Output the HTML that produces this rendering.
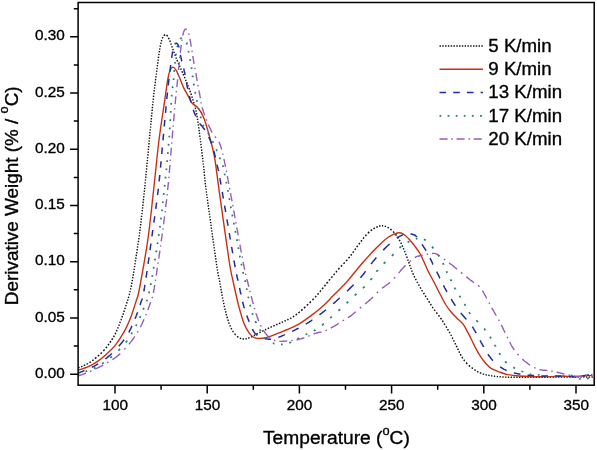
<!DOCTYPE html>
<html><head><meta charset="utf-8"><title>DTG curves</title>
<style>
html,body{margin:0;padding:0;background:#fff}
body{width:597px;height:450px;overflow:hidden}
svg{display:block}
text{font-family:"Liberation Sans",sans-serif;fill:#000;stroke:#000;stroke-width:0.35px}
.tk{font-size:15.3px}
.ti{font-size:19.2px}
.lg{font-size:18.7px}
</style></head><body>
<svg width="597" height="450" viewBox="0 0 597 450">
<rect width="597" height="450" fill="#fff"/>
<defs><clipPath id="cp"><rect x="78.1" y="2.5" width="516.1" height="382.7"/></clipPath></defs>
<g clip-path="url(#cp)" fill="none" stroke-linejoin="round">
<path d="M78.3 367.9L79.1 367.6L79.6 367.4M81.1 366.7L82.0 366.4L82.4 366.2M83.8 365.6L84.7 365.1L85.2 364.9M86.6 364.2L87.5 363.8L88.0 363.5M89.4 362.6L90.3 362.1L90.8 361.7M92.2 360.7L93.1 360.1L93.6 359.7M95.0 358.6L95.8 357.9L96.4 357.4M97.8 356.2L98.6 355.5L99.1 355.0M100.6 353.7L101.4 352.9L101.9 352.4M103.4 350.9L104.1 350.1L104.6 349.6M105.8 348.1L106.5 347.3L106.9 346.8M108.0 345.3L108.6 344.5L109.0 344.0M109.9 342.6L110.5 341.8L110.9 341.2M111.8 339.8L112.3 339.0L112.7 338.4M113.5 337.0L114.0 336.2L114.3 335.6M115.1 334.2L115.5 333.4L115.8 332.8M116.4 331.4L116.8 330.6L117.1 330.0M117.7 328.6L118.0 327.8L118.2 327.3M118.8 325.8L119.1 325.0L119.3 324.5M119.8 323.0L120.1 322.2L120.3 321.7M120.9 320.2L121.2 319.4L121.3 318.9M121.9 317.4L122.2 316.6L122.4 316.1M122.9 314.7L123.2 313.9L123.4 313.3M123.9 311.9L124.2 311.0L124.4 310.5M124.8 309.1L125.1 308.2L125.3 307.7M125.7 306.3L126.0 305.4L126.2 304.9M126.6 303.5L126.9 302.6L127.1 302.1M127.5 300.7L127.8 299.8L127.9 299.4M128.3 297.9L128.6 297.0L128.7 296.6M129.1 295.1L129.4 294.2L129.5 293.8M129.8 292.3L130.1 291.4L130.2 291.0M130.5 289.5L130.7 288.6L130.8 288.2M131.1 286.8L131.3 285.9L131.4 285.4M131.7 284.0L131.8 283.1L131.9 282.6M132.2 281.2L132.3 280.3L132.4 279.8M132.7 278.4L132.8 277.5L132.9 277.0M133.2 275.6L133.3 274.7L133.4 274.2M133.6 272.8L133.8 271.9L133.8 271.5M134.1 270.0L134.2 269.1L134.3 268.7M134.5 267.2L134.7 266.3L134.7 265.9M135.0 264.4L135.1 263.5L135.2 263.1M135.4 261.6L135.5 260.7L135.6 260.3M135.8 258.9L135.9 258.0L136.0 257.5M136.2 256.1L136.3 255.2L136.4 254.7M136.6 253.3L136.8 252.4L136.8 251.9M137.0 250.5L137.2 249.6L137.2 249.1M137.4 247.7L137.6 246.8L137.7 246.3M137.9 244.9L138.0 244.0L138.1 243.6M138.3 242.1L138.5 241.2L138.5 240.8M138.7 239.3L138.9 238.4L138.9 238.0M139.2 236.5L139.3 235.6L139.3 235.2M139.5 233.7L139.6 232.8L139.7 232.4M139.9 231.0L140.0 230.1L140.0 229.6M140.2 228.2L140.3 227.3L140.4 226.8M140.6 225.4L140.7 224.5L140.7 224.0M140.9 222.6L141.0 221.7L141.0 221.2M141.2 219.8L141.3 218.9L141.4 218.4M141.5 217.0L141.6 216.1L141.7 215.7M141.9 214.2L142.0 213.3L142.0 212.9M142.2 211.4L142.3 210.5L142.3 210.1M142.5 208.6L142.6 207.7L142.6 207.3M142.8 205.8L142.9 204.9L142.9 204.5M143.1 203.1L143.2 202.2L143.3 201.7M143.4 200.3L143.5 199.4L143.6 198.9M143.7 197.5L143.8 196.6L143.9 196.1M144.0 194.7L144.1 193.8L144.2 193.3M144.3 191.9L144.4 191.0L144.4 190.5M144.6 189.1L144.7 188.2L144.7 187.8M144.9 186.3L145.0 185.4L145.0 185.0M145.2 183.5L145.2 182.6L145.3 182.2M145.4 180.7L145.5 179.8L145.6 179.4M145.7 177.9L145.8 177.0L145.8 176.6M146.0 175.2L146.0 174.3L146.1 173.8M146.2 172.4L146.3 171.5L146.4 171.0M146.5 169.6L146.6 168.7L146.6 168.2M146.8 166.8L146.8 165.9L146.9 165.4M147.0 164.0L147.1 163.1L147.2 162.6M147.3 161.2L147.4 160.3L147.4 159.9M147.6 158.4L147.6 157.5L147.7 157.1M147.8 155.6L147.9 154.7L147.9 154.3M148.1 152.8L148.2 151.9L148.2 151.5M148.3 150.0L148.4 149.1L148.5 148.7M148.6 147.3L148.7 146.4L148.7 145.9M148.9 144.5L149.0 143.6L149.0 143.1M149.1 141.7L149.2 140.8L149.3 140.3M149.4 138.9L149.5 138.0L149.5 137.5M149.7 136.1L149.8 135.2L149.8 134.7M149.9 133.3L150.0 132.4L150.1 132.0M150.2 130.5L150.3 129.6L150.3 129.2M150.5 127.7L150.6 126.8L150.6 126.4M150.7 124.9L150.8 124.0L150.9 123.6M151.0 122.1L151.1 121.2L151.1 120.8M151.3 119.4L151.3 118.6L151.4 118.0M151.5 116.6L151.6 115.8L151.7 115.2M151.8 113.8L151.9 113.0L151.9 112.4M152.1 111.0L152.2 110.2L152.2 109.6M152.4 108.2L152.4 107.4L152.5 106.8M152.6 105.4L152.7 104.6L152.8 104.1M152.9 102.6L153.0 101.8L153.1 101.3M153.2 99.8L153.3 99.0L153.4 98.5M153.5 97.0L153.6 96.2L153.7 95.7M153.8 94.2L153.9 93.4L154.0 92.9M154.2 91.5L154.2 90.7L154.3 90.1M154.5 88.7L154.6 87.9L154.7 87.3M154.8 85.9L154.9 85.1L155.0 84.5M155.2 83.1L155.3 82.3L155.4 81.7M155.5 80.3L155.6 79.5L155.7 78.9M155.9 77.5L156.0 76.7L156.1 76.2M156.3 74.7L156.4 73.9L156.4 73.4M156.6 71.9L156.7 71.1L156.8 70.6M157.0 69.1L157.1 68.3L157.2 67.8M157.3 66.3L157.4 65.5L157.5 65.0M157.7 63.6L157.8 62.8L157.9 62.2M158.1 60.8L158.2 60.0L158.2 59.4M158.4 58.0L158.5 57.2L158.6 56.6M158.8 55.2L158.9 54.4L159.0 53.8M159.2 52.4L159.4 51.6L159.5 51.0M159.7 49.6L159.8 48.8L159.9 48.3M160.2 46.8L160.3 46.0L160.4 45.5M160.7 44.0L160.9 43.2L161.0 42.7M161.4 41.2L161.6 40.4L161.8 39.9M162.3 38.4L162.7 37.6L162.9 37.1M163.8 35.7L164.6 35.0L165.2 34.7M166.6 35.0L167.3 35.8L167.7 36.4M168.4 37.8L168.8 38.6L169.1 39.2M169.8 40.6L170.1 41.4L170.3 42.0M170.8 43.4L171.1 44.2L171.3 44.8M171.8 46.2L172.1 47.0L172.3 47.5M172.8 49.0L173.1 49.8L173.3 50.3M173.8 51.8L174.1 52.6L174.3 53.1M174.9 54.6L175.2 55.4L175.3 55.9M175.9 57.4L176.2 58.2L176.4 58.7M177.0 60.1L177.3 60.9L177.6 61.5M178.2 62.9L178.5 63.7L178.8 64.3M179.4 65.7L179.8 66.5L180.0 67.1M180.7 68.5L181.0 69.3L181.3 69.9M181.9 71.3L182.3 72.1L182.6 72.7M183.2 74.1L183.5 74.9L183.7 75.4M184.4 76.9L184.7 77.7L184.9 78.2M185.6 79.7L185.9 80.5L186.1 81.0M186.7 82.5L187.0 83.3L187.2 83.8M187.8 85.3L188.1 86.1L188.3 86.6M188.9 88.0L189.2 88.8L189.4 89.4M189.9 90.8L190.2 91.6L190.4 92.2M190.9 93.6L191.2 94.4L191.4 95.0M191.8 96.4L192.1 97.2L192.3 97.8M192.7 99.2L193.0 100.0L193.2 100.6M193.6 102.0L193.9 102.8L194.0 103.3M194.5 104.8L194.7 105.6L194.8 106.1M195.2 107.6L195.4 108.4L195.6 108.9M195.9 110.4L196.1 111.2L196.2 111.7M196.5 113.2L196.6 114.0L196.7 114.5M197.0 115.9L197.1 116.7L197.2 117.3M197.4 118.7L197.6 119.5L197.6 120.1M197.9 121.5L198.0 122.3L198.1 122.9M198.3 124.3L198.4 125.1L198.5 125.7M198.7 127.1L198.8 127.9L198.9 128.5M199.0 129.9L199.2 130.7L199.2 131.2M199.4 132.7L199.5 133.5L199.6 134.0M199.8 135.5L199.9 136.3L200.0 136.8M200.2 138.3L200.3 139.1L200.3 139.6M200.5 141.1L200.6 141.9L200.7 142.4M200.9 143.8L201.0 144.6L201.1 145.2M201.2 146.6L201.3 147.4L201.4 148.0M201.6 149.4L201.7 150.2L201.8 150.8M201.9 152.2L202.0 153.0L202.1 153.6M202.3 155.0L202.4 155.8L202.4 156.4M202.6 157.8L202.7 158.6L202.8 159.1M202.9 160.6L203.0 161.4L203.1 161.9M203.3 163.4L203.3 164.2L203.4 164.7M203.6 166.2L203.7 167.0L203.7 167.5M203.9 169.0L204.0 169.8L204.0 170.3M204.2 171.7L204.3 172.5L204.3 173.1M204.4 174.5L204.5 175.3L204.5 175.9M204.6 177.3L204.7 178.1L204.7 178.7M204.9 180.1L205.0 180.9L205.1 181.5M205.2 182.9L205.3 183.7L205.4 184.3M205.6 185.7L205.7 186.5L205.8 187.0M206.0 188.5L206.1 189.3L206.1 189.8M206.3 191.3L206.4 192.1L206.5 192.6M206.7 194.1L206.8 194.9L206.9 195.4M207.1 196.9L207.2 197.7L207.3 198.2M207.5 199.6L207.6 200.4L207.6 201.0M207.8 202.4L207.9 203.2L208.0 203.8M208.2 205.2L208.3 206.0L208.4 206.6M208.6 208.0L208.7 208.8L208.8 209.4M209.0 210.8L209.1 211.6L209.2 212.2M209.4 213.6L209.5 214.4L209.6 214.9M209.8 216.4L209.9 217.2L210.0 217.7M210.2 219.2L210.3 220.0L210.3 220.5M210.6 222.0L210.7 222.8L210.7 223.3M210.9 224.8L211.1 225.6L211.1 226.1M211.3 227.5L211.4 228.3L211.5 228.9M211.7 230.3L211.8 231.1L211.9 231.7M212.1 233.1L212.2 233.9L212.3 234.5M212.5 235.9L212.6 236.7L212.7 237.3M212.9 238.7L213.0 239.5L213.1 240.1M213.3 241.5L213.4 242.3L213.5 242.8M213.7 244.3L213.8 245.1L213.9 245.6M214.1 247.1L214.2 247.9L214.3 248.4M214.5 249.9L214.6 250.7L214.7 251.2M214.9 252.7L215.0 253.5L215.1 254.0M215.3 255.4L215.4 256.2L215.5 256.8M215.7 258.2L215.8 259.0L215.9 259.6M216.1 261.0L216.2 261.8L216.3 262.4M216.5 263.8L216.6 264.6L216.7 265.2M216.9 266.6L217.0 267.4L217.1 268.0M217.3 269.4L217.4 270.2L217.5 270.7M217.8 272.2L217.9 273.0L218.0 273.5M218.3 275.0L218.5 275.8L218.6 276.3M219.0 277.8L219.1 278.6L219.2 279.1M219.5 280.6L219.7 281.4L219.7 281.9M220.0 283.3L220.1 284.1L220.2 284.7M220.5 286.1L220.6 286.9L220.7 287.5M221.0 288.9L221.1 289.7L221.2 290.3M221.5 291.7L221.6 292.5L221.7 293.1M222.0 294.5L222.1 295.3L222.2 295.9M222.5 297.3L222.6 298.1L222.7 298.6M223.0 300.1L223.2 300.9L223.3 301.4M223.6 302.9L223.8 303.7L223.9 304.2M224.2 305.7L224.4 306.5L224.5 307.0M224.8 308.5L225.0 309.3L225.1 309.8M225.5 311.2L225.7 312.0L225.8 312.6M226.2 314.0L226.4 314.8L226.6 315.4M227.0 316.8L227.2 317.6L227.4 318.2M227.8 319.6L228.1 320.4L228.3 321.0M228.8 322.4L229.0 323.2L229.3 323.8M229.8 325.2L230.2 326.0L230.4 326.5M231.1 328.0L231.5 328.8L231.8 329.3M232.6 330.8L233.1 331.6L233.5 332.1M234.6 333.6L235.2 334.4L235.7 334.9M237.1 336.4L237.9 337.0L238.4 337.4M239.8 338.1L240.6 338.4L241.2 338.6M242.6 338.8L243.4 338.9L244.0 338.9M245.4 338.9L246.2 338.8L246.8 338.6M248.2 338.2L249.0 337.9L249.6 337.7M251.0 337.1L251.8 336.7L252.4 336.4M253.8 335.6L254.6 335.2L255.1 335.0M256.6 334.2L257.4 333.7L257.9 333.5M259.4 332.7L260.2 332.3L260.7 332.1M262.2 331.3L263.0 330.9L263.5 330.7M265.0 329.9L265.8 329.5L266.3 329.3M267.7 328.6L268.5 328.2L269.1 327.9M270.5 327.3L271.3 326.9L271.9 326.7M273.3 326.1L274.1 325.7L274.7 325.5M276.1 324.9L276.9 324.5L277.5 324.3M278.9 323.7L279.7 323.3L280.3 323.0M281.7 322.4L282.5 322.0L283.0 321.8M284.5 321.1L285.3 320.8L285.8 320.6M287.3 319.9L288.1 319.5L288.6 319.3M290.1 318.5L290.9 318.1L291.4 317.8M292.9 316.9L293.7 316.4L294.2 316.1M295.6 315.1L296.4 314.5L297.0 314.0M298.4 312.9L299.2 312.3L299.8 311.8M301.2 310.6L302.0 309.9L302.6 309.4M304.0 308.1L304.8 307.4L305.4 306.9M306.8 305.6L307.6 304.8L308.2 304.2M309.6 302.9L310.4 302.1L310.9 301.6M312.4 300.1L313.2 299.3L313.7 298.8M315.1 297.3L315.8 296.5L316.2 296.0M317.5 294.5L318.2 293.7L318.6 293.2M319.9 291.7L320.5 290.9L320.9 290.4M322.1 289.0L322.7 288.2L323.2 287.6M324.3 286.2L325.0 285.4L325.5 284.8M326.6 283.4L327.3 282.6L327.8 282.0M328.9 280.6L329.6 279.8L330.1 279.2M331.2 277.8L331.9 277.0L332.4 276.4M333.6 275.0L334.2 274.2L334.6 273.7M335.9 272.2L336.6 271.4L337.0 270.9M338.3 269.4L339.0 268.6L339.5 268.1M340.9 266.6L341.6 265.8L342.1 265.3M343.5 263.8L344.3 263.0L344.7 262.5M346.0 261.1L346.8 260.3L347.3 259.7M348.5 258.3L349.1 257.5L349.6 256.9M350.7 255.5L351.3 254.7L351.7 254.1M352.7 252.7L353.3 251.9L353.7 251.3M354.7 249.9L355.3 249.1L355.7 248.5M356.7 247.1L357.3 246.3L357.7 245.8M358.8 244.3L359.4 243.5L359.8 243.0M360.9 241.5L361.5 240.7L361.9 240.2M363.1 238.7L363.7 237.9L364.1 237.4M365.4 235.9L366.1 235.1L366.5 234.6M367.9 233.2L368.7 232.4L369.3 231.9M370.7 230.7L371.5 230.1L372.1 229.7M373.5 228.8L374.3 228.3L374.9 228.0M376.3 227.3L377.1 227.0L377.7 226.8M379.1 226.3L379.9 226.0L380.5 225.9M381.9 225.7L382.7 225.7L383.2 225.7M384.7 226.1L385.5 226.4L386.0 226.6M387.5 227.3L388.3 227.7L388.8 228.0M390.3 229.1L391.1 229.7L391.6 230.1M393.1 231.5L393.8 232.3L394.3 232.8M395.5 234.2L396.1 235.0L396.5 235.6M397.5 237.0L398.0 237.8L398.4 238.4M399.2 239.8L399.7 240.6L400.0 241.2M400.8 242.6L401.2 243.4L401.5 244.0M402.1 245.4L402.5 246.2L402.7 246.8M403.3 248.2L403.7 249.0L403.9 249.5M404.5 251.0L404.8 251.8L405.0 252.3M405.6 253.8L405.9 254.6L406.1 255.1M406.7 256.6L407.0 257.4L407.2 257.9M407.7 259.4L408.0 260.2L408.2 260.7M408.7 262.1L409.0 262.9L409.2 263.5M409.7 264.9L410.0 265.7L410.2 266.3M410.7 267.7L411.0 268.5L411.2 269.1M411.7 270.5L412.0 271.3L412.3 271.9M412.8 273.3L413.2 274.1L413.4 274.7M414.1 276.1L414.5 276.9L414.7 277.4M415.5 278.9L415.9 279.7L416.2 280.2M417.0 281.7L417.4 282.5L417.7 283.0M418.6 284.5L419.0 285.3L419.3 285.8M420.2 287.3L420.6 288.1L420.9 288.6M421.8 290.0L422.2 290.8L422.6 291.4M423.5 292.8L424.0 293.6L424.3 294.2M425.2 295.6L425.7 296.4L426.1 297.0M427.0 298.4L427.5 299.2L427.8 299.8M428.7 301.2L429.2 302.0L429.6 302.6M430.5 304.0L431.0 304.8L431.3 305.3M432.3 306.8L432.8 307.6L433.2 308.1M434.2 309.6L434.8 310.4L435.2 310.9M436.3 312.4L437.0 313.2L437.4 313.7M438.5 315.2L439.1 316.0L439.5 316.5M440.5 317.9L441.1 318.7L441.5 319.3M442.4 320.7L442.9 321.5L443.2 322.1M444.1 323.5L444.6 324.3L445.0 324.9M445.9 326.3L446.4 327.1L446.7 327.7M447.6 329.1L448.0 329.9L448.4 330.5M449.2 331.9L449.7 332.7L450.0 333.2M450.8 334.7L451.2 335.5L451.5 336.0M452.2 337.5L452.6 338.3L452.9 338.8M453.6 340.3L454.0 341.1L454.2 341.6M455.0 343.1L455.4 343.9L455.6 344.4M456.3 345.8L456.7 346.6L457.0 347.2M457.6 348.6L458.0 349.4L458.3 350.0M458.9 351.4L459.3 352.2L459.6 352.8M460.3 354.2L460.8 355.0L461.1 355.6M462.0 357.0L462.5 357.8L462.9 358.4M463.8 359.8L464.4 360.6L464.8 361.1M466.1 362.6L466.8 363.4L467.3 363.9M468.8 365.4L469.6 366.1L470.1 366.5M471.6 367.7L472.4 368.2L472.9 368.6M474.4 369.6L475.2 370.2L475.7 370.5M477.1 371.3L477.9 371.8L478.5 372.1M479.9 372.8L480.7 373.1L481.3 373.4M482.7 373.9L483.5 374.1L484.1 374.3M485.5 374.7L486.3 374.9L486.9 375.0M488.3 375.3L489.1 375.4L489.7 375.5M491.1 375.8L491.9 375.9L492.4 376.0M493.9 376.2L494.7 376.3L495.2 376.4M496.7 376.5L497.5 376.6L498.0 376.6M499.5 376.8L500.3 376.8L500.8 376.9M502.3 377.0L503.1 377.0L503.6 377.0M505.0 377.1L505.8 377.1L506.4 377.2M507.8 377.2L508.6 377.2L509.2 377.2M510.6 377.2L511.4 377.3L512.0 377.3M513.4 377.3L514.2 377.3L514.8 377.3M516.2 377.3L517.0 377.3L517.6 377.3M519.0 377.3L519.8 377.3L520.3 377.3M521.8 377.3L522.6 377.3L523.1 377.3M524.6 377.3L525.4 377.3L525.9 377.3M527.4 377.3L528.2 377.3L528.7 377.3M530.2 377.3L531.0 377.3L531.5 377.3M532.9 377.3L533.7 377.3L534.3 377.3M535.7 377.3L536.5 377.3L537.1 377.3M538.5 377.2L539.3 377.2L539.9 377.2M541.3 377.2L542.1 377.2L542.7 377.2M544.1 377.2L544.9 377.2L545.5 377.2M546.9 377.2L547.8 377.2L548.2 377.2M549.7 377.2L550.6 377.1L551.0 377.1M552.5 377.1L553.4 377.1L553.8 377.1M555.3 377.1L556.2 377.1L556.6 377.1M558.1 377.1L559.0 377.1L559.4 377.1M560.8 377.1L561.7 377.1L562.2 377.1M563.6 377.1L564.5 377.1L565.0 377.1M566.4 377.1L567.3 377.1L567.8 377.1M569.2 377.1L570.1 377.1L570.6 377.1M572.0 377.1L572.9 377.1L573.4 377.1M574.8 377.1L575.7 377.1L576.1 377.1M577.6 377.1L578.5 377.1L578.9 377.1M580.4 377.1L581.3 377.1L581.7 377.1M583.2 377.1L584.1 377.1L584.5 377.1M586.0 377.1L586.9 377.1L587.3 377.1M588.7 377.1L589.6 377.1L590.1 377.1M591.5 377.1L592.4 377.1L592.9 377.1" stroke="#111111" stroke-width="1.45"/>
<path d="M77.7 370.4C79.5 369.8 85.0 368.2 88.3 366.7C91.5 365.2 94.2 363.7 97.2 361.6C100.2 359.6 103.1 357.1 106.1 354.4C109.1 351.7 112.0 349.3 115.0 345.6C118.0 341.9 121.3 336.8 123.9 332.2C126.5 327.6 128.6 323.0 130.6 317.8C132.6 312.6 134.7 305.7 136.1 301.1C137.5 296.5 137.2 300.2 139.2 290.0C141.1 279.8 145.4 256.7 147.8 240.0C150.2 223.3 151.7 206.7 153.6 190.0C155.5 173.3 157.1 155.2 159.0 140.0C160.9 124.8 163.5 109.0 164.9 99.1C166.3 89.2 166.8 85.1 167.6 80.4C168.4 75.7 169.0 72.9 169.9 70.7C170.8 68.5 171.8 67.1 172.9 67.1C174.0 67.1 175.2 68.8 176.4 70.7C177.6 72.6 178.8 75.9 180.0 78.7C181.2 81.5 182.3 84.8 183.6 87.6C184.9 90.4 186.6 93.0 188.0 95.6C189.4 98.2 190.6 101.3 192.2 103.3C193.8 105.3 196.0 105.6 197.8 107.8C199.7 110.0 201.5 112.3 203.3 116.7C205.2 121.1 207.1 127.7 208.9 134.4C210.8 141.1 212.7 147.6 214.4 156.7C216.1 165.8 216.5 171.7 218.9 188.9C221.3 206.1 226.7 244.8 229.0 260.0C231.3 275.2 231.2 272.6 232.8 280.0C234.4 287.4 236.5 297.2 238.3 304.4C240.2 311.6 242.1 318.5 243.9 323.3C245.8 328.1 247.6 330.9 249.4 333.3C251.2 335.7 252.8 337.0 255.0 337.8C257.2 338.6 260.4 338.4 262.8 338.2C265.2 338.0 266.9 337.5 269.4 336.7C271.9 335.9 274.6 334.6 277.8 333.3C281.1 332.0 285.2 330.6 288.9 328.9C292.6 327.2 296.3 325.5 300.0 323.3C303.7 321.1 307.4 318.4 311.1 315.6C314.8 312.8 318.5 310.0 322.2 306.7C325.9 303.4 329.6 299.3 333.3 295.6C337.0 291.9 341.4 287.5 344.4 284.4C347.4 281.2 348.1 280.2 351.1 276.7C354.1 273.2 358.5 267.6 362.2 263.3C365.9 259.0 370.0 254.6 373.3 251.1C376.6 247.6 379.6 244.6 382.2 242.2C384.8 239.8 386.9 238.1 388.9 236.7C390.9 235.3 392.7 234.7 394.4 234.0C396.1 233.3 397.4 232.7 398.9 232.7C400.4 232.7 401.6 233.0 403.3 234.0C405.0 235.0 407.0 237.0 408.9 238.9C410.8 240.8 412.5 243.2 414.4 245.6C416.2 248.0 418.3 250.6 420.0 253.5C421.7 256.4 422.9 259.6 424.4 262.8C425.9 266.0 427.2 269.5 428.9 272.8C430.6 276.1 432.5 279.3 434.4 282.8C436.2 286.3 438.1 290.4 440.0 294.0C441.9 297.6 443.8 301.5 445.6 304.5C447.5 307.5 449.2 309.8 451.1 312.0C453.0 314.2 454.7 315.9 456.7 318.0C458.7 320.1 461.3 321.7 463.3 324.4C465.3 327.1 467.0 330.9 468.9 334.4C470.8 337.9 472.5 342.1 474.4 345.6C476.2 349.1 478.1 352.7 480.0 355.6C481.9 358.6 483.8 361.2 485.6 363.3C487.5 365.4 488.9 367.0 491.1 368.4C493.3 369.8 496.1 370.8 498.9 371.8C501.7 372.8 504.5 373.9 507.8 374.6C511.1 375.3 514.8 375.7 518.9 376.0C523.0 376.3 527.5 376.5 532.5 376.6C537.5 376.7 543.3 376.7 548.7 376.6C554.1 376.6 560.4 376.3 565.0 376.3C569.6 376.3 573.1 376.9 576.4 376.8C579.6 376.7 581.8 375.7 584.5 375.5C587.2 375.3 591.2 375.8 592.6 375.8" stroke="#c93013" stroke-width="1.4"/>
<path d="M78.0 373.2L78.9 372.8L79.7 372.5L80.5 372.2L81.3 371.8L82.2 371.5L83.1 371.1L84.0 370.7L84.5 370.5M91.7 367.3L92.6 366.9L93.5 366.5L94.3 366.1L95.1 365.6L95.9 365.2L96.7 364.7L97.5 364.2L98.2 363.8M105.4 359.0L106.2 358.4L107.0 357.8L107.8 357.1L108.6 356.4L109.4 355.7L110.2 355.0L111.0 354.3L111.8 353.6L111.9 353.5M118.9 346.2L119.5 345.4L120.2 344.6L120.9 343.8L121.5 343.0L122.2 342.2L122.8 341.4L123.4 340.6L124.0 339.8L124.1 339.7M128.7 332.5L129.2 331.7L129.6 330.9L130.0 330.1L130.4 329.3L130.8 328.5L131.2 327.7L131.6 326.9L131.9 326.1L132.0 326.0M135.0 318.8L135.4 317.9L135.8 317.0L136.1 316.1L136.5 315.2L136.8 314.3L137.1 313.4L137.5 312.5L137.5 312.3M140.1 305.0L140.3 304.1L140.6 303.2L140.9 302.3L141.2 301.4L141.6 300.5L142.0 299.6L142.3 298.7L142.4 298.5M143.9 291.3L144.0 290.4L144.2 289.5L144.3 288.6L144.5 287.7L144.6 286.8L144.8 285.9L144.9 285.0L145.0 284.8M146.1 277.6L146.2 276.7L146.3 275.8L146.5 274.9L146.6 274.0L146.7 273.1L146.8 272.2L147.0 271.3L147.0 271.1M148.1 263.8L148.2 262.9L148.3 262.0L148.4 261.1L148.6 260.2L148.7 259.3L148.8 258.4L149.0 257.5L149.0 257.3M150.0 250.1L150.1 249.2L150.3 248.3L150.4 247.4L150.5 246.5L150.6 245.6L150.8 244.7L150.9 243.8L150.9 243.6M151.9 236.4L152.0 235.5L152.2 234.6L152.3 233.7L152.4 232.8L152.5 231.9L152.7 231.0L152.8 230.1L152.8 229.9M153.8 222.7L154.0 221.8L154.1 220.9L154.2 220.0L154.3 219.1L154.5 218.2L154.6 217.3L154.7 216.4L154.7 216.2M155.7 208.9L155.9 208.0L156.0 207.1L156.1 206.2L156.2 205.3L156.3 204.4L156.5 203.5L156.6 202.6L156.6 202.4M157.5 195.2L157.6 194.3L157.7 193.4L157.8 192.5L158.0 191.6L158.1 190.7L158.2 189.8L158.3 188.9L158.3 188.7M159.1 181.5L159.2 180.6L159.3 179.7L159.4 178.8L159.5 177.9L159.6 177.0L159.7 176.1L159.8 175.2L159.8 175.0M160.5 167.7L160.6 166.8L160.6 165.9L160.7 165.0L160.8 164.1L160.9 163.2L161.0 162.3L161.1 161.4L161.1 161.2M161.7 154.0L161.8 153.1L161.9 152.2L162.0 151.3L162.0 150.4L162.1 149.5L162.2 148.6L162.3 147.7L162.3 147.5M163.0 140.3L163.1 139.4L163.1 138.5L163.2 137.6L163.3 136.7L163.4 135.8L163.5 134.9L163.6 134.0L163.6 133.8M164.2 126.5L164.3 125.7L164.4 124.9L164.5 124.1L164.5 123.3L164.6 122.5L164.7 121.7L164.8 120.9L164.8 120.1L164.8 120.0M165.5 112.8L165.6 112.0L165.7 111.2L165.7 110.4L165.8 109.6L165.9 108.8L165.9 108.0L166.0 107.2L166.1 106.4L166.1 106.3M166.8 99.1L166.9 98.3L166.9 97.5L167.0 96.7L167.1 95.9L167.2 95.1L167.3 94.3L167.4 93.5L167.4 92.7L167.4 92.6M168.3 85.4L168.3 84.6L168.4 83.8L168.5 83.0L168.6 82.2L168.7 81.4L168.8 80.6L168.9 79.8L169.0 79.0L169.1 78.9M169.9 71.6L170.0 70.8L170.1 70.0L170.2 69.2L170.3 68.4L170.4 67.6L170.5 66.8L170.6 66.0L170.7 65.2L170.7 65.1M171.7 57.9L171.8 57.1L171.9 56.3L172.0 55.5L172.1 54.7L172.3 53.9L172.4 53.1L172.5 52.3L172.7 51.5L172.7 51.4M174.8 44.2L175.4 43.4L176.2 43.1L177.0 43.4L177.7 44.2L178.1 45.0L178.5 45.8L178.8 46.6L179.0 47.4L179.0 47.5M180.4 54.8L180.5 55.6L180.7 56.4L180.9 57.2L181.1 58.0L181.2 58.8L181.4 59.6L181.6 60.4L181.8 61.2L181.9 61.3M183.7 68.5L183.9 69.3L184.1 70.1L184.2 70.9L184.4 71.7L184.6 72.5L184.8 73.3L184.9 74.1L185.1 74.9L185.1 75.0M186.4 82.2L186.6 83.0L186.7 83.8L186.9 84.6L187.0 85.4L187.2 86.2L187.3 87.0L187.5 87.8L187.7 88.6L187.7 88.7M189.4 96.0L189.6 96.8L189.8 97.6L190.0 98.4L190.2 99.2L190.4 100.0L190.6 100.8L190.8 101.6L191.0 102.4L191.0 102.5M193.2 109.7L193.5 110.5L193.8 111.3L194.1 112.1L194.4 112.9L194.7 113.7L195.1 114.5L195.4 115.3L195.8 116.1L195.8 116.2M199.7 123.4L200.2 124.2L200.9 125.0L201.6 125.8L202.3 126.6L202.9 127.4L203.6 128.2L204.2 129.0L204.8 129.8L204.9 129.9M208.8 137.1L209.1 137.9L209.5 138.7L209.9 139.5L210.2 140.3L210.5 141.1L210.9 141.9L211.2 142.7L211.5 143.5L211.5 143.6M213.8 150.9L214.0 151.7L214.2 152.5L214.4 153.3L214.6 154.1L214.8 154.9L215.0 155.7L215.2 156.5L215.4 157.3L215.4 157.4M217.1 164.6L217.2 165.4L217.4 166.2L217.6 167.0L217.8 167.8L218.0 168.6L218.2 169.4L218.4 170.0L218.6 170.8L218.6 170.9M219.9 178.1L220.0 178.9L220.1 179.7L220.3 180.5L220.4 181.3L220.6 182.1L220.7 182.9L220.8 183.7L221.0 184.5L221.0 184.6M222.2 191.9L222.4 192.7L222.5 193.5L222.6 194.3L222.8 195.1L222.9 195.9L223.1 196.7L223.2 197.5L223.3 198.3L223.3 198.4M224.6 205.6L224.7 206.4L224.8 207.2L225.0 208.0L225.1 208.8L225.3 209.6L225.4 210.4L225.5 211.2L225.7 212.0L225.7 212.1M226.9 219.3L227.0 220.1L227.2 220.9L227.3 221.7L227.5 222.5L227.6 223.3L227.7 224.1L227.9 224.9L228.0 225.7L228.0 225.8M229.3 233.1L229.4 233.9L229.5 234.7L229.7 235.5L229.8 236.3L229.9 237.1L230.1 237.9L230.2 238.7L230.4 239.5L230.4 239.6M231.6 246.8L231.7 247.6L231.9 248.4L232.0 249.2L232.2 250.0L232.3 250.8L232.4 251.6L232.6 252.4L232.7 253.2L232.7 253.3M234.0 260.5L234.1 261.3L234.3 262.1L234.4 262.9L234.6 263.7L234.7 264.5L234.8 265.3L235.0 266.1L235.1 266.9L235.2 267.0M236.5 274.2L236.7 275.0L236.9 275.8L237.0 276.6L237.2 277.4L237.4 278.2L237.6 279.0L237.8 279.8L238.0 280.6L238.0 280.7M239.5 288.0L239.7 288.8L239.9 289.6L240.1 290.4L240.2 291.2L240.4 292.0L240.6 292.8L240.8 293.6L240.9 294.4L240.9 294.5M242.6 301.7L242.8 302.5L243.0 303.3L243.2 304.1L243.4 304.9L243.6 305.7L243.8 306.5L244.1 307.3L244.3 308.1L244.3 308.2M246.7 315.4L247.0 316.2L247.3 317.0L247.6 317.8L247.9 318.6L248.2 319.4L248.6 320.2L248.9 321.0L249.2 321.8L249.3 321.9M252.4 329.2L252.8 330.0L253.3 330.8L253.8 331.6L254.3 332.4L254.9 333.2L255.7 334.0L256.5 334.7L257.3 335.3L257.4 335.3M264.6 338.4L265.4 338.7L266.2 338.8L267.0 339.0L267.8 339.1L268.6 339.2L269.4 339.2L270.2 339.2L271.0 339.2L271.1 339.2M278.3 337.4L279.1 337.1L279.9 336.8L280.7 336.5L281.5 336.1L282.3 335.8L283.1 335.4L283.9 335.1L284.7 334.7L284.8 334.7M292.1 331.3L292.9 331.0L293.7 330.6L294.5 330.2L295.3 329.8L296.1 329.4L296.9 329.0L297.7 328.6L298.5 328.2L298.6 328.1M305.8 324.1L306.6 323.6L307.4 323.2L308.2 322.7L309.0 322.2L309.8 321.6L310.6 321.1L311.4 320.6L312.2 320.0L312.3 320.0M319.5 314.8L320.3 314.2L321.1 313.6L321.9 313.0L322.7 312.4L323.5 311.8L324.3 311.1L325.1 310.5L325.9 309.9L326.0 309.8M333.2 303.8L334.0 303.1L334.8 302.4L335.6 301.7L336.4 301.0L337.2 300.2L338.0 299.5L338.8 298.8L339.6 298.0L339.7 297.9M347.0 291.2L347.8 290.5L348.6 289.7L349.4 288.9L350.2 288.1L351.0 287.3L351.8 286.5L352.6 285.7L353.4 284.9L353.5 284.8M360.4 277.7L361.1 276.9L361.8 276.1L362.5 275.3L363.2 274.5L363.8 273.7L364.4 272.9L365.0 272.1L365.6 271.3L365.7 271.2M371.0 264.0L371.7 263.2L372.3 262.4L372.9 261.6L373.6 260.8L374.3 260.0L374.9 259.2L375.6 258.4L376.3 257.6L376.4 257.5M383.2 250.2L383.9 249.4L384.7 248.6L385.5 247.8L386.3 247.0L387.1 246.2L387.9 245.5L388.7 244.7L389.5 244.0L389.6 243.9M396.8 238.0L397.6 237.5L398.4 237.0L399.2 236.6L400.0 236.2L400.8 235.8L401.6 235.4L402.4 235.1L403.2 234.8L403.3 234.8M410.5 233.9L411.3 234.0L412.1 234.2L412.9 234.4L413.7 234.7L414.5 235.0L415.3 235.5L416.1 236.2L416.9 236.9L417.0 237.0M422.0 244.3L422.5 245.1L423.0 245.9L423.5 246.7L424.0 247.5L424.6 248.3L425.1 249.1L425.6 249.9L426.1 250.7L426.2 250.8M430.1 258.0L430.4 258.8L430.8 259.6L431.2 260.4L431.5 261.2L431.9 262.0L432.3 262.8L432.6 263.6L433.0 264.4L433.1 264.5M436.7 271.7L437.1 272.5L437.5 273.3L437.9 274.1L438.3 274.9L438.7 275.7L439.1 276.5L439.5 277.3L439.9 278.1L440.0 278.2M443.5 285.4L443.9 286.2L444.3 287.0L444.7 287.8L445.2 288.6L445.6 289.4L446.0 290.2L446.5 291.0L446.9 291.8L447.0 291.9M451.2 299.2L451.7 300.0L452.2 300.8L452.7 301.6L453.2 302.4L453.7 303.2L454.2 304.0L454.7 304.8L455.3 305.6L455.4 305.7M460.8 312.9L461.4 313.7L462.1 314.5L462.8 315.3L463.4 316.1L464.1 316.9L464.9 317.7L465.6 318.5L466.4 319.3L466.5 319.4M472.3 326.6L472.8 327.4L473.3 328.2L473.8 329.0L474.2 329.8L474.7 330.6L475.2 331.4L475.6 332.2L476.1 333.0L476.1 333.1M480.0 340.4L480.5 341.2L480.9 342.0L481.3 342.8L481.8 343.6L482.2 344.4L482.7 345.2L483.1 346.0L483.6 346.8L483.6 346.9M487.9 354.1L488.4 354.9L489.0 355.7L489.6 356.5L490.2 357.3L490.8 358.1L491.5 358.9L492.1 359.7L492.8 360.5L492.9 360.6M500.1 366.8L500.9 367.3L501.7 367.8L502.5 368.3L503.3 368.8L504.1 369.3L504.9 369.7L505.7 370.1L506.5 370.5L506.6 370.5M513.9 372.9L514.7 373.1L515.5 373.2L516.3 373.4L517.1 373.6L517.9 373.7L518.7 373.9L519.5 374.0L520.3 374.1L520.4 374.1M527.6 375.1L528.4 375.2L529.2 375.2L530.0 375.3L530.8 375.4L531.6 375.4L532.4 375.5L533.2 375.5L534.0 375.6L534.1 375.6M541.3 375.9L542.1 375.9L542.9 375.9L543.7 375.9L544.5 375.9L545.3 375.9L546.1 376.0L546.9 376.0L547.7 376.0L547.8 376.0M555.0 376.0L555.8 376.0L556.6 376.0L557.4 376.0L558.2 376.0L559.0 376.0L559.8 376.0L560.6 376.0L561.4 376.0L561.5 376.0M568.8 376.2L569.6 376.3L570.4 376.4L571.2 376.4L572.0 376.5L572.8 376.6L573.6 376.6L574.4 376.7L575.2 376.8L575.3 376.8M582.5 376.3L583.3 376.1L584.1 375.9L584.9 375.8L585.7 375.6L586.5 375.4L587.3 375.3L588.1 375.1L588.9 375.0L589.0 375.0" stroke="#1c2d9e" stroke-width="1.5"/>
<path d="M77.7 374.4L78.6 374.1L79.1 373.9M85.6 371.5L86.5 371.2L87.3 370.9M93.8 368.4L94.6 368.0L95.4 367.6L95.5 367.6M102.0 363.8L102.8 363.2L103.6 362.7L103.7 362.6M110.2 357.8L111.0 357.2L111.8 356.5L111.9 356.4M118.4 350.6L119.2 349.8L120.0 349.0L120.1 348.9M125.8 342.4L126.4 341.6L127.0 340.8L127.0 340.7M131.3 334.2L131.7 333.4L132.2 332.6L132.3 332.5M135.8 326.0L136.3 325.1L136.7 324.3M139.8 317.8L140.2 316.9L140.6 316.1M143.2 309.6L143.6 308.7L143.9 307.9M146.6 301.4L146.9 300.5L147.2 299.7M149.0 293.2L149.2 292.3L149.4 291.5M150.7 285.0L150.8 284.1L151.0 283.3M152.2 276.8L152.3 275.9L152.5 275.1M153.6 268.6L153.7 267.7L153.8 266.9M154.9 260.4L155.1 259.5L155.2 258.7M156.2 252.2L156.4 251.3L156.5 250.5M157.5 244.0L157.6 243.1L157.7 242.3M158.7 235.8L158.8 234.9L158.9 234.1M159.9 227.6L160.0 226.7L160.1 225.9M160.9 219.4L161.0 218.5L161.1 217.7M161.9 211.2L162.0 210.3L162.1 209.5M162.8 203.0L162.9 202.1L163.0 201.3M163.7 194.8L163.8 193.9L163.9 193.1M164.6 186.6L164.7 185.7L164.8 184.9M165.5 178.4L165.5 177.5L165.6 176.7M166.3 170.2L166.4 169.3L166.5 168.5M167.1 162.0L167.2 161.1L167.2 160.3M167.8 153.8L167.9 152.9L168.0 152.1M168.5 145.6L168.6 144.7L168.7 143.9M169.2 137.4L169.3 136.5L169.3 135.7M169.8 129.2L169.8 128.4L169.9 127.6L169.9 127.5M170.2 121.0L170.3 120.2L170.3 119.4L170.3 119.3M170.7 112.8L170.7 112.0L170.8 111.2L170.8 111.1M171.1 104.6L171.2 103.8L171.2 103.0L171.2 102.9M171.7 96.4L171.7 95.6L171.8 94.8L171.8 94.7M172.5 88.2L172.6 87.4L172.7 86.6L172.8 86.5M173.5 80.0L173.6 79.2L173.7 78.4L173.7 78.3M174.2 71.8L174.3 71.0L174.4 70.2L174.4 70.1M174.9 63.6L175.0 62.8L175.1 62.0L175.1 61.9M175.8 55.4L175.9 54.6L176.1 53.8L176.1 53.7M177.1 47.2L177.3 46.4L177.5 45.6L177.5 45.5M180.2 39.0L180.8 38.2L181.6 37.6L181.7 37.5M186.5 42.7L186.9 43.5L187.1 44.3L187.2 44.4M188.4 50.9L188.5 51.7L188.7 52.5L188.7 52.6M190.0 59.1L190.2 59.9L190.3 60.7L190.4 60.8M191.4 67.3L191.5 68.1L191.6 68.9L191.6 69.0M192.5 75.5L192.6 76.3L192.8 77.1L192.8 77.2M193.8 83.7L193.9 84.5L194.0 85.3L194.1 85.4M195.2 91.9L195.3 92.7L195.4 93.5L195.5 93.6M196.7 100.1L196.9 100.9L197.1 101.7L197.1 101.8M198.5 108.3L198.7 109.1L198.9 109.9L198.9 110.0M200.5 116.5L200.7 117.3L200.9 118.1L200.9 118.2M202.9 124.7L203.2 125.5L203.6 126.3L203.7 126.4M208.0 132.9L208.5 133.7L208.9 134.5L209.0 134.6M212.4 141.1L212.8 141.9L213.2 142.7L213.2 142.8M216.3 149.3L216.6 150.1L216.9 150.9L217.0 151.0M219.5 157.5L219.8 158.3L220.1 159.1L220.1 159.2M222.8 165.4L223.0 166.2L223.2 167.0L223.2 167.1M224.6 173.6L224.7 174.4L224.9 175.2L224.9 175.3M226.2 181.8L226.3 182.6L226.5 183.4L226.5 183.5M227.7 190.0L227.9 190.8L228.0 191.6L228.0 191.7M229.2 198.2L229.4 199.0L229.5 199.8L229.5 199.9M230.7 206.4L230.9 207.2L231.0 208.0L231.1 208.1M232.2 214.6L232.4 215.4L232.5 216.2L232.6 216.3M233.7 222.8L233.9 223.6L234.0 224.4L234.0 224.5M235.2 231.0L235.4 231.8L235.5 232.6L235.5 232.7M236.7 239.2L236.9 240.0L237.0 240.8L237.0 240.9M238.2 247.4L238.4 248.2L238.5 249.0L238.5 249.1M239.8 255.6L239.9 256.4L240.0 257.2L240.1 257.3M241.3 263.8L241.5 264.6L241.6 265.4L241.6 265.5M243.0 272.0L243.1 272.8L243.3 273.6L243.3 273.7M245.0 280.2L245.2 281.0L245.4 281.8L245.4 281.9M246.6 288.4L246.8 289.2L246.9 290.0L246.9 290.1M248.2 296.6L248.4 297.4L248.5 298.2L248.5 298.3M250.0 304.8L250.2 305.6L250.4 306.4L250.4 306.5M252.3 313.0L252.5 313.8L252.8 314.6L252.8 314.7M255.3 321.2L255.7 322.0L256.1 322.8L256.1 322.9M259.7 329.4L260.1 330.2L260.6 331.0L260.6 331.1M264.8 337.6L265.5 338.4L266.2 339.2L266.3 339.3M272.8 343.1L273.6 343.4L274.4 343.6L274.5 343.6M281.0 344.4L281.8 344.4L282.6 344.3L282.7 344.3M289.2 342.9L290.0 342.6L290.8 342.3L290.9 342.2M297.4 339.0L298.2 338.5L299.0 338.1L299.1 338.0M305.6 334.5L306.4 334.2L307.2 333.9L307.3 333.8M313.8 330.8L314.6 330.4L315.4 330.0L315.5 329.9M322.0 325.3L322.8 324.6L323.6 323.8L323.7 323.8M330.2 318.0L331.0 317.4L331.8 316.7L331.9 316.6M338.4 310.8L339.2 310.0L340.0 309.3L340.1 309.2M346.6 303.2L347.4 302.4L348.2 301.7L348.3 301.6M354.8 295.5L355.6 294.7L356.4 294.0L356.5 293.9M363.0 288.1L363.8 287.3L364.6 286.6L364.7 286.5M370.5 280.0L371.1 279.2L371.8 278.4L371.8 278.3M376.4 271.8L377.0 271.0L377.7 270.2L377.7 270.1M383.7 263.6L384.5 262.8L385.3 262.0L385.4 261.9M391.9 255.9L392.7 255.1L393.4 254.3L393.5 254.2M399.4 247.8L400.2 247.2L401.0 246.6L401.1 246.5M407.6 242.3L408.4 241.9L409.2 241.5L409.3 241.4M415.8 238.9L416.6 238.7L417.4 238.5L417.5 238.5M424.0 239.2L424.8 239.7L425.6 240.3L425.7 240.4M432.0 246.6L432.6 247.4L433.3 248.2L433.4 248.3M438.0 254.8L438.5 255.6L439.0 256.4L439.1 256.5M442.8 263.0L443.2 263.8L443.6 264.6L443.6 264.7M446.5 271.2L446.8 272.0L447.2 272.8L447.3 272.9M450.5 279.4L450.9 280.2L451.3 281.0L451.3 281.1M454.6 287.6L455.0 288.4L455.5 289.2L455.5 289.3M459.4 295.8L459.9 296.6L460.4 297.4L460.4 297.5M464.6 304.0L465.0 304.8L465.4 305.6L465.5 305.7M469.1 312.2L469.6 313.0L470.2 313.8L470.3 313.9M476.3 320.3L477.1 321.1L477.9 321.9L478.0 322.0M484.1 328.5L484.7 329.3L485.4 330.1L485.5 330.2M490.0 336.7L490.5 337.5L491.0 338.3L491.1 338.4M494.7 344.9L495.1 345.7L495.6 346.5L495.6 346.6M499.2 353.1L499.7 353.9L500.2 354.7L500.2 354.8M505.1 361.3L505.9 362.1L506.7 362.8L506.8 362.9M513.3 367.4L514.1 367.8L514.9 368.2L515.0 368.2M521.5 371.1L522.3 371.5L523.1 371.8L523.2 371.9M529.7 374.2L530.5 374.3L531.3 374.4L531.4 374.4M537.9 374.8L538.7 374.9L539.5 375.0L539.6 375.0M546.1 375.6L546.9 375.7L547.7 375.8L547.8 375.8M554.3 376.6L555.1 376.6L555.9 376.7L556.0 376.7M562.5 376.2L563.3 376.0L564.1 375.7L564.2 375.7M570.7 375.2L571.5 375.5L572.3 375.9L572.4 376.0M578.9 378.8L579.7 379.0L580.5 379.2L580.6 379.3M587.1 378.9L588.0 378.4L588.8 377.8" stroke="#267f7a" stroke-width="1.75"/>
<path d="M78.1 376.1L79.0 375.7L79.8 375.4L80.6 375.1L81.4 374.8L82.3 374.5L83.2 374.2L84.1 373.8L85.0 373.5L85.9 373.1L86.0 373.1M90.0 371.5L90.9 371.1L91.4 370.9M95.3 369.1L96.1 368.7L96.9 368.3L97.7 367.9L98.5 367.5L99.3 367.1L100.1 366.7L100.9 366.3L101.7 365.9L102.5 365.5L103.2 365.1M107.1 362.9L107.9 362.4L108.5 362.1M112.4 359.6L113.2 359.1L114.0 358.6L114.8 358.0L115.6 357.5L116.4 356.9L117.2 356.2L118.0 355.6L118.8 354.9L119.6 354.2L120.3 353.6M124.2 349.6L125.0 348.8L125.5 348.2M128.9 344.3L129.5 343.5L130.2 342.7L130.8 341.9L131.4 341.1L132.0 340.3L132.6 339.5L133.2 338.7L133.8 337.9L134.3 337.1L134.8 336.4M137.3 332.5L137.8 331.6L138.1 331.1M140.3 327.2L140.8 326.3L141.2 325.4L141.7 324.5L142.1 323.6L142.5 322.7L142.9 321.8L143.3 320.9L143.7 320.0L144.0 319.3M145.7 315.3L146.1 314.4L146.3 313.9M147.8 310.0L148.2 309.1L148.5 308.2L148.8 307.3L149.1 306.4L149.5 305.5L149.8 304.6L150.1 303.7L150.4 302.8L150.6 302.1M151.9 298.2L152.3 297.3L152.6 296.8M153.4 292.9L153.6 292.0L153.7 291.1L153.9 290.2L154.0 289.3L154.2 288.4L154.3 287.5L154.5 286.6L154.6 285.7L154.7 285.0M155.3 281.0L155.5 280.1L155.6 279.6M156.2 275.7L156.3 274.8L156.4 273.9L156.6 273.0L156.7 272.1L156.8 271.2L157.0 270.3L157.1 269.4L157.2 268.5L157.4 267.8M157.9 263.9L158.1 263.0L158.1 262.5M158.7 258.6L158.9 257.7L159.0 256.8L159.1 255.9L159.3 255.0L159.4 254.1L159.5 253.2L159.7 252.3L159.8 251.4L159.9 250.7M160.5 246.7L160.6 245.8L160.7 245.3M161.2 241.4L161.3 240.5L161.5 239.6L161.6 238.7L161.7 237.8L161.9 236.9L162.0 236.0L162.1 235.1L162.2 234.2L162.3 233.5M162.8 229.6L163.0 228.7L163.0 228.2M163.6 224.3L163.7 223.4L163.8 222.5L163.9 221.6L164.0 220.7L164.1 219.8L164.3 218.9L164.4 218.0L164.5 217.1L164.6 216.4M165.1 212.4L165.2 211.5L165.3 211.0M165.7 207.1L165.8 206.2L165.9 205.3L166.0 204.4L166.1 203.5L166.3 202.6L166.4 201.7L166.5 200.8L166.6 199.9L166.6 199.2M167.1 195.3L167.2 194.4L167.2 193.9M167.6 190.0L167.7 189.1L167.8 188.2L167.9 187.3L168.0 186.4L168.1 185.5L168.2 184.6L168.3 183.7L168.4 182.8L168.4 182.1M168.8 178.1L168.9 177.2L168.9 176.7M169.3 172.8L169.4 171.9L169.4 171.0L169.5 170.1L169.6 169.2L169.7 168.3L169.7 167.4L169.8 166.5L169.9 165.6L169.9 164.9M170.3 161.0L170.3 160.1L170.4 159.6M170.7 155.7L170.8 154.8L170.8 153.9L170.9 153.0L171.0 152.1L171.1 151.2L171.1 150.3L171.2 149.4L171.3 148.5L171.3 147.8M171.7 143.8L171.7 142.9L171.8 142.4M172.1 138.5L172.2 137.7L172.3 136.9L172.3 136.1L172.4 135.3L172.5 134.5L172.5 133.7L172.6 132.9L172.7 132.1L172.8 131.3L172.8 130.6M173.2 126.7L173.2 125.9L173.3 125.3M173.6 121.4L173.7 120.6L173.8 119.8L173.8 119.0L173.9 118.2L174.0 117.4L174.0 116.6L174.1 115.8L174.2 115.0L174.2 114.2L174.3 113.5M174.7 109.5L174.7 108.7L174.8 108.1M175.1 104.2L175.2 103.4L175.3 102.6L175.3 101.8L175.4 101.0L175.5 100.2L175.6 99.4L175.6 98.6L175.7 97.8L175.8 97.0L175.9 96.3M176.2 92.4L176.3 91.6L176.4 91.0M176.8 87.1L176.9 86.3L177.0 85.5L177.1 84.7L177.2 83.9L177.2 83.1L177.3 82.3L177.4 81.5L177.5 80.7L177.6 79.9L177.6 79.2M178.0 75.2L178.1 74.4L178.2 73.8M178.6 69.9L178.6 69.1L178.7 68.3L178.8 67.5L178.9 66.7L178.9 65.9L179.0 65.1L179.1 64.3L179.2 63.5L179.3 62.7L179.3 62.0M179.7 58.1L179.8 57.3L179.9 56.7M180.3 52.8L180.4 52.0L180.5 51.2L180.6 50.4L180.7 49.6L180.8 48.8L180.9 48.0L181.0 47.2L181.1 46.4L181.2 45.6L181.3 44.9M181.8 40.9L181.9 40.1L182.0 39.5M182.7 35.6L182.9 34.8L183.1 34.0L183.3 33.2L183.5 32.4L183.8 31.6L184.2 30.8L184.6 30.0L185.2 29.3L186.0 29.2L186.7 29.6M188.7 33.5L188.9 34.3L189.1 34.9M189.9 38.8L190.1 39.6L190.2 40.4L190.4 41.2L190.5 42.0L190.6 42.8L190.8 43.6L190.9 44.4L191.1 45.2L191.2 46.0L191.3 46.7M191.9 50.7L192.1 51.5L192.2 52.1M192.8 56.0L192.9 56.8L193.0 57.6L193.2 58.4L193.3 59.2L193.5 60.0L193.6 60.8L193.7 61.6L193.9 62.4L194.0 63.2L194.1 63.9M194.8 67.8L195.0 68.6L195.1 69.2M195.8 73.1L196.0 73.9L196.1 74.7L196.2 75.5L196.4 76.3L196.5 77.1L196.7 77.9L196.8 78.7L197.0 79.5L197.1 80.3L197.2 81.0M198.0 85.0L198.1 85.8L198.2 86.4M198.9 90.3L199.1 91.1L199.2 91.9L199.4 92.7L199.5 93.5L199.7 94.3L199.8 95.1L200.0 95.9L200.1 96.7L200.3 97.5L200.4 98.2M201.0 102.1L201.1 102.9L201.2 103.5M202.1 107.4L202.3 108.2L202.6 109.0L202.8 109.8L203.1 110.6L203.3 111.4L203.6 112.2L203.9 113.0L204.2 113.8L204.5 114.6L204.7 115.3M206.2 119.3L206.5 120.1L206.7 120.7M208.3 124.6L208.7 125.4L209.1 126.2L209.4 127.0L209.8 127.8L210.2 128.6L210.6 129.4L211.0 130.2L211.4 131.0L211.8 131.8L212.2 132.5M214.7 136.4L215.5 137.2L216.1 137.8M218.9 141.7L219.2 142.5L219.6 143.3L219.9 144.1L220.2 144.9L220.5 145.7L220.7 146.5L221.0 147.3L221.3 148.1L221.5 148.9L221.7 149.6M222.7 153.6L222.9 154.4L223.1 155.0M223.9 158.9L224.1 159.7L224.3 160.5L224.4 161.3L224.6 162.1L224.7 162.9L224.9 163.7L225.1 164.5L225.2 165.3L225.4 166.1L225.5 166.8M226.3 170.7L226.5 171.5L226.6 172.1M227.3 176.0L227.5 176.8L227.6 177.6L227.8 178.4L227.9 179.2L228.1 180.0L228.2 180.8L228.4 181.6L228.5 182.4L228.7 183.2L228.8 183.9M229.6 187.9L229.7 188.7L229.8 189.3M230.6 193.2L230.7 194.0L230.8 194.8L231.0 195.6L231.1 196.4L231.3 197.2L231.4 198.0L231.6 198.8L231.7 199.6L231.9 200.4L232.0 201.1M232.7 205.0L232.9 205.8L233.0 206.4M233.7 210.3L233.8 211.1L234.0 211.9L234.1 212.7L234.3 213.5L234.4 214.3L234.5 215.1L234.7 215.9L234.8 216.7L235.0 217.5L235.1 218.2M235.8 222.2L236.0 223.0L236.1 223.6M236.8 227.5L236.9 228.3L237.1 229.1L237.2 229.9L237.4 230.7L237.5 231.5L237.7 232.3L237.8 233.1L238.0 233.9L238.1 234.7L238.2 235.4M238.9 239.3L239.1 240.1L239.2 240.7M239.9 244.6L240.1 245.4L240.2 246.2L240.4 247.0L240.5 247.8L240.6 248.6L240.8 249.4L240.9 250.2L241.1 251.0L241.2 251.8L241.4 252.5M242.1 256.5L242.3 257.3L242.4 257.9M243.1 261.8L243.3 262.6L243.4 263.4L243.6 264.2L243.7 265.0L243.9 265.8L244.1 266.6L244.2 267.4L244.4 268.2L244.5 269.0L244.7 269.7M245.5 273.6L245.7 274.4L245.8 275.0M246.8 278.9L247.0 279.7L247.3 280.5L247.5 281.3L247.7 282.1L247.9 282.9L248.1 283.7L248.3 284.5L248.5 285.3L248.7 286.1L248.9 286.8M249.8 290.8L250.0 291.6L250.2 292.2M251.2 296.1L251.4 296.9L251.6 297.7L251.8 298.5L252.0 299.3L252.2 300.1L252.4 300.9L252.7 301.7L252.9 302.5L253.1 303.3L253.3 304.0M254.4 307.9L254.6 308.7L254.8 309.3M256.0 313.2L256.2 314.0L256.5 314.8L256.8 315.6L257.0 316.4L257.3 317.2L257.6 318.0L257.8 318.8L258.1 319.6L258.5 320.4L258.7 321.1M260.5 325.1L260.9 325.9L261.2 326.5M263.4 330.4L264.0 331.2L264.5 332.0L265.1 332.8L265.7 333.6L266.4 334.4L267.1 335.2L267.8 336.0L268.6 336.8L269.4 337.5L270.1 338.0M274.0 340.3L274.8 340.5L275.4 340.7M279.3 341.4L280.1 341.4L280.9 341.4L281.7 341.4L282.5 341.3L283.3 341.3L284.1 341.2L284.9 341.1L285.7 341.1L286.5 341.0L287.2 341.0M291.2 340.6L292.0 340.5L292.6 340.5M296.5 339.8L297.3 339.7L298.1 339.5L298.9 339.3L299.7 339.1L300.5 338.9L301.3 338.7L302.1 338.5L302.9 338.3L303.7 338.0L304.4 337.8M308.3 336.3L309.1 335.9L309.7 335.7M313.6 334.0L314.4 333.7L315.2 333.4L316.0 333.2L316.8 332.9L317.6 332.7L318.4 332.5L319.2 332.4L320.0 332.2L320.8 332.1L321.5 331.9M325.5 330.7L326.3 330.3L326.9 330.0M330.8 328.1L331.6 327.6L332.4 327.2L333.2 326.7L334.0 326.3L334.8 325.8L335.6 325.3L336.4 324.8L337.2 324.3L338.0 323.8L338.7 323.3M342.6 320.8L343.4 320.4L344.0 320.0M347.9 317.7L348.7 317.2L349.5 316.7L350.3 316.1L351.1 315.6L351.9 315.0L352.7 314.3L353.5 313.7L354.3 313.0L355.1 312.3L355.8 311.7M359.8 308.3L360.6 307.6L361.2 307.1M365.1 303.9L365.9 303.3L366.7 302.6L367.5 302.0L368.3 301.3L369.1 300.6L369.9 299.9L370.7 299.2L371.5 298.5L372.3 297.7L373.0 297.0M376.8 293.1L377.5 292.3L378.1 291.7M382.0 288.3L382.8 287.7L383.6 287.2L384.4 286.6L385.2 286.0L386.0 285.5L386.8 284.9L387.6 284.3L388.4 283.7L389.2 283.0L389.9 282.4M393.9 278.5L394.7 277.7L395.2 277.1M398.6 273.2L399.2 272.4L399.9 271.6L400.5 270.8L401.2 270.0L401.9 269.2L402.6 268.4L403.4 267.6L404.1 266.8L404.9 266.0L405.6 265.3M409.5 261.7L410.3 261.0L410.9 260.5M414.8 257.5L415.6 257.1L416.4 256.7L417.2 256.4L418.0 256.2L418.8 256.0L419.6 255.8L420.4 255.7L421.2 255.5L422.0 255.3L422.7 255.2M426.7 254.3L427.5 254.2L428.1 254.1M432.0 253.5L432.8 253.4L433.6 253.4L434.4 253.4L435.2 253.6L436.0 253.8L436.8 254.1L437.6 254.5L438.4 255.0L439.2 255.5L439.9 256.0M443.8 259.0L444.6 259.5L445.2 260.0M449.1 262.9L449.9 263.5L450.7 264.1L451.5 264.7L452.3 265.3L453.1 265.9L453.9 266.6L454.7 267.2L455.5 267.9L456.3 268.5L457.0 269.1M461.0 272.4L461.8 273.1L462.4 273.6M466.3 276.8L467.1 277.4L467.9 278.1L468.7 278.7L469.5 279.3L470.3 280.0L471.1 280.6L471.9 281.2L472.7 281.7L473.5 282.3L474.2 282.7M478.1 285.4L478.9 286.1L479.5 286.7M482.4 290.6L482.9 291.4L483.4 292.2L483.8 293.0L484.2 293.8L484.7 294.6L485.1 295.4L485.5 296.2L486.0 297.0L486.4 297.8L486.8 298.5M489.0 302.5L489.4 303.3L489.7 303.9M491.8 307.8L492.2 308.6L492.7 309.4L493.1 310.2L493.6 311.0L494.0 311.8L494.5 312.6L494.9 313.4L495.4 314.2L495.9 315.0L496.3 315.7M498.5 319.6L499.0 320.4L499.3 321.0M501.3 324.9L501.7 325.7L502.1 326.5L502.5 327.3L502.9 328.1L503.3 328.9L503.6 329.7L504.0 330.5L504.4 331.3L504.8 332.1L505.1 332.8M507.1 336.8L507.5 337.6L507.8 338.2M509.7 342.1L510.1 342.9L510.5 343.7L510.9 344.5L511.4 345.3L511.8 346.1L512.3 346.9L512.8 347.7L513.3 348.5L513.9 349.3L514.4 350.0M517.4 353.9L518.1 354.7L518.6 355.3M522.3 359.1L523.1 359.8L523.9 360.5L524.7 361.2L525.5 361.8L526.3 362.4L527.1 363.0L527.9 363.6L528.7 364.2L529.5 364.8L530.2 365.2M534.2 367.5L535.0 367.9L535.6 368.1M539.5 369.5L540.3 369.7L541.1 369.9L541.9 370.1L542.7 370.2L543.5 370.2L544.3 370.3L545.1 370.3L545.9 370.4L546.7 370.4L547.4 370.5M551.3 371.0L552.1 371.2L552.7 371.3M556.6 372.1L557.4 372.3L558.2 372.5L559.0 372.7L559.8 372.9L560.6 373.1L561.4 373.3L562.2 373.5L563.0 373.7L563.8 373.9L564.5 374.1M568.5 375.0L569.3 375.2L569.9 375.3M573.8 375.9L574.6 376.0L575.4 376.1L576.2 376.1L577.0 376.2L577.8 376.3L578.6 376.3L579.4 376.3L580.2 376.3L581.0 376.3L581.7 376.3M585.6 375.6L586.5 375.4L587.0 375.3M590.9 374.6L591.8 374.4L592.5 374.2" stroke="#965cb6" stroke-width="1.4"/>
</g>
<rect x="78.1" y="2.5" width="516.1" height="382.7" fill="none" stroke="#000" stroke-width="1.5"/>
<path d="M78.1 374.2H70.1M78.1 346.1H73.8M78.1 318.0H70.1M78.1 289.8H73.8M78.1 261.7H70.1M78.1 233.6H73.8M78.1 205.5H70.1M78.1 177.4H73.8M78.1 149.3H70.1M78.1 121.1H73.8M78.1 93.0H70.1M78.1 64.9H73.8M78.1 36.8H70.1M78.1 8.7H73.8M115.0 385.2V393.6M207.2 385.2V393.6M299.4 385.2V393.6M391.6 385.2V393.6M483.8 385.2V393.6M576.0 385.2V393.6M161.1 385.2V389.7M253.3 385.2V389.7M345.5 385.2V389.7M437.7 385.2V389.7M529.9 385.2V389.7" stroke="#000" stroke-width="1.5" fill="none"/>
<text class="tk" x="64.8" y="377.7" text-anchor="end">0.00</text>
<text class="tk" x="64.8" y="321.5" text-anchor="end">0.05</text>
<text class="tk" x="64.8" y="265.2" text-anchor="end">0.10</text>
<text class="tk" x="64.8" y="209.0" text-anchor="end">0.15</text>
<text class="tk" x="64.8" y="152.8" text-anchor="end">0.20</text>
<text class="tk" x="64.8" y="96.5" text-anchor="end">0.25</text>
<text class="tk" x="64.8" y="40.3" text-anchor="end">0.30</text>
<text class="tk" x="115.2" y="410.2" text-anchor="middle">100</text>
<text class="tk" x="207.4" y="410.2" text-anchor="middle">150</text>
<text class="tk" x="299.6" y="410.2" text-anchor="middle">200</text>
<text class="tk" x="391.8" y="410.2" text-anchor="middle">250</text>
<text class="tk" x="484.0" y="410.2" text-anchor="middle">300</text>
<text class="tk" x="576.2" y="410.2" text-anchor="middle">350</text>
<text class="ti" x="263" y="444.3">Temperature (<tspan font-size="12.8" dy="-9.3">o</tspan><tspan dy="9.3">C)</tspan></text>
<text class="ti" style="font-size:18.9px" transform="translate(17.5 305.2) rotate(-90)">Derivative Weight (% / <tspan font-size="12.8" dy="-9.3">o</tspan><tspan dy="9.3">C)</tspan></text>
<path d="M439.5 45.9H483" stroke="#111111" stroke-width="1.45" stroke-dasharray="1.45 1.34" fill="none"/>
<text class="lg" x="488.3" y="51.8">5 K/min</text>
<path d="M439.5 69.3H483" stroke="#c93013" stroke-width="1.4" fill="none"/>
<text class="lg" x="488.3" y="75.2">9 K/min</text>
<path d="M439.5 92.5H483" stroke="#1c2d9e" stroke-width="1.5" stroke-dasharray="6.6 7.1" fill="none"/>
<text class="lg" x="488.3" y="98.4">13 K/min</text>
<path d="M439.5 115.8H483" stroke="#267f7a" stroke-width="1.75" stroke-dasharray="1.8 6.3" fill="none"/>
<text class="lg" x="488.3" y="121.7">17 K/min</text>
<path d="M439.5 139.0H483" stroke="#965cb6" stroke-width="1.4" stroke-dasharray="8.0 3.8 1.5 3.8" fill="none"/>
<text class="lg" x="488.3" y="144.9">20 K/min</text>
</svg>
</body></html>
